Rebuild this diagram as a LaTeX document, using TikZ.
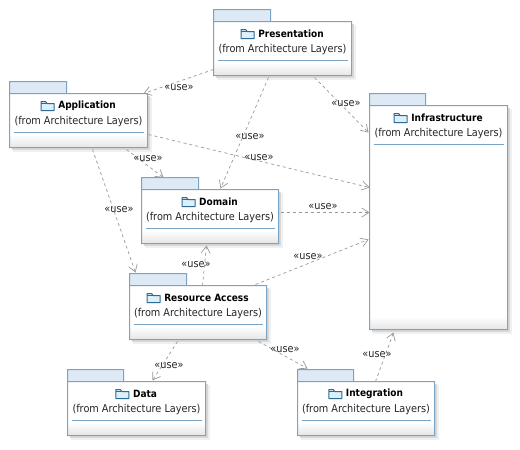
\documentclass[tikz,border=0pt]{standalone}
\usepackage{fontspec}
\setmainfont{DejaVu Sans Condensed}
\usetikzlibrary{arrows.meta,calc}
\definecolor{pkgline}{HTML}{7BA4C4}
\definecolor{pkgtab}{HTML}{DEE9F6}
\definecolor{icon}{HTML}{2E6B94}
\definecolor{iconfill}{HTML}{DDF0FA}
\definecolor{depline}{HTML}{999999}
\tikzset{
  pkgbody/.style={inner sep=0pt,outer sep=0pt,anchor=north west,fill=white},
  pkgtabbox/.style={fill=pkgtab,inner sep=0pt,outer sep=0pt,anchor=north west},
  pkgframe/.style={fill=pkgline,even odd rule},
  pkgtitle/.style={font=\fontsize{10}{12}\selectfont\bfseries,inner sep=0pt,text=black},
  pkgfrom/.style={font=\fontsize{10.8}{12}\selectfont,inner sep=0pt,text=black!85},
  dep/.style={draw=depline,line width=.7pt,dash pattern=on 3pt off 3pt,
    -{Straight Barb[length=7pt,width=9pt,line width=.7pt]}},
  uselabel/.style={font=\fontsize{10.8}{12}\selectfont,inner sep=0pt,text=black!85},
}
\newcommand{\pkgframepath}[1]{%
  \fill[pkgframe] ([shift={(-.5,-.5)}]#1.north west) rectangle ([shift={(.5,.5)}]#1.south east)
    ([shift={(.5,.5)}]#1.north west) rectangle ([shift={(-.5,-.5)}]#1.south east);
}
% name, x, y (tab top), width, body height, tab width, title
\newcommand{\pkgnode}[7]{%
  \fill[black!6] (#2+3.5,#3+15.5) rectangle ++(#4+1,#5+1);
  \fill[black!15] (#2+2.5,#3+14.5) rectangle ++(#4+.5,#5+.5);
  \node[pkgtabbox,minimum width=#6pt,minimum height=12pt] (#1-tab) at (#2+.5,#3+.5) {};
  \pkgframepath{#1-tab}
  \node[pkgbody,minimum width=#4pt,minimum height=#5pt] (#1) at (#2+.5,#3+12.5) {};
  \foreach \k in {1,...,6}{
    \pgfmathsetmacro{\shadeamt}{1.6*\k}
    \fill[black!\shadeamt!white] ([shift={(0,-14+2*\k)}]#1.south west) rectangle ([shift={(0,-12+2*\k)}]#1.south east);
  }
  \pkgframepath{#1}
  \node[pkgtitle] (#1-title) at ($(#1.north)+(8.5,12.5)$) {#7};
  \node[pkgfrom] (#1-from) at ($(#1.north)+(0,28)$) {(from Architecture Layers)};
  \draw[pkgline,line width=1pt] ([shift={(4,39)}]#1.north west) -- ([shift={(-4,39)}]#1.north east);
  \draw[icon,fill=iconfill,line width=1pt,line join=round]
    ([shift={(-17,-4.5)}]#1-title.west) -- ++(0,9) -- ++(13,0) -- ++(0,-7) -- ++(-7,0) -- ++(-1.5,-2) -- cycle;
  \draw[icon,line width=1pt] ([shift={(-17,-2.5)}]#1-title.west) -- ++(5.5,0);
}
\begin{document}
\begin{tikzpicture}[x=1pt,y=-1pt]
\useasboundingbox (0,0) rectangle (520,450);
\fill[white] (0,0) rectangle (520,450);
\pkgnode{pres}{213}{9}{138}{54}{57}{Presentation}
\pkgnode{app}{9}{81}{138}{54}{57}{Application}
\pkgnode{dom}{141}{177}{137}{54}{57}{Domain}
\pkgnode{res}{129}{273}{137}{54}{57}{Resource Access}
\pkgnode{data}{67}{369}{138}{54}{56}{Data}
\pkgnode{integ}{297}{369}{137}{54}{56}{Integration}
\pkgnode{infra}{369}{93}{138}{224}{56}{Infrastructure}
% connectors
\draw[dep] ([shift={(0,48)}]pres.north west) -- ([shift={(-4,0)}]app.north east);
\draw[dep] ([shift={(55,2)}]pres.south west) -- ([shift={(79,-1)}]dom.north west);
\draw[dep] ([shift={(101,2)}]pres.south west) -- ([shift={(-1,27)}]infra.north west);
\draw[dep] ([shift={(1,41)}]app.north east) -- ([shift={(0,82)}]infra.north west);
\draw[dep] ([shift={(117,2)}]app.south west) -- ([shift={(22,0)}]dom-tab.north west);
\draw[dep] ([shift={(83,2)}]app.south west) -- ([shift={(6,-1)}]res-tab.north west);
\draw[dep] ([shift={(2,23)}]dom.north east) -- ([shift={(0,107)}]infra.north west);
\draw[dep] ([shift={(73,0)}]res.north west) -- ([shift={(65,2)}]dom.south west);
\draw[dep] ([shift={(126,-1)}]res.north west) -- ([shift={(-1,134)}]infra.north west);
\draw[dep] ([shift={(48,2)}]res.south west) -- ([shift={(85,-1)}]data.north west);
\draw[dep] ([shift={(129,2)}]res.south west) -- ([shift={(10,-1)}]integ-tab.north west);
\draw[dep] ([shift={(78,0)}]integ.north west) -- ([shift={(24,3)}]infra.south west);
% labels
\node[uselabel] (u1) at (179,88) {«use»};
\node[uselabel] (u2) at (250,137) {«use»};
\node[uselabel] (u3) at (346,104) {«use»};
\node[uselabel] (u4) at (259,158) {«use»};
\node[uselabel] (u5) at (148,159) {«use»};
\node[uselabel] (u6) at (119,210) {«use»};
\node[uselabel] (u7) at (323,207) {«use»};
\node[uselabel] (u8) at (196,265) {«use»};
\node[uselabel] (u9) at (308,257) {«use»};
\node[uselabel] (u10) at (169,366) {«use»};
\node[uselabel] (u11) at (285,350) {«use»};
\node[uselabel] (u12) at (377,355) {«use»};
\end{tikzpicture}
\end{document}
